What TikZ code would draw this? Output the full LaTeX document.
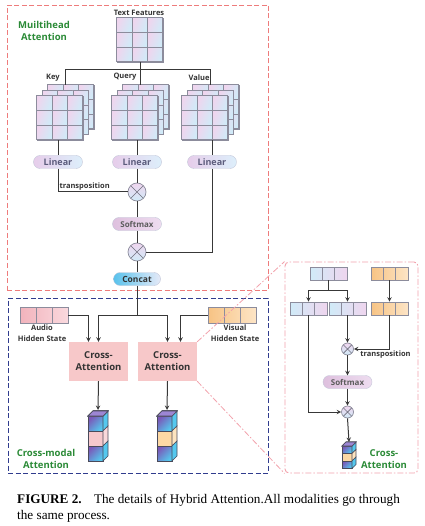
\documentclass[tikz,border=0pt]{standalone}
\usepackage{fontspec}
\setmainfont{Liberation Serif}
\newfontfamily\diagfont{Open Sans}
\usetikzlibrary{shapes.misc,positioning,calc}
\definecolor{GridBlue}{HTML}{D0EBF8}
\definecolor{GridPink}{HTML}{EFD5EE}
\definecolor{GridLine}{HTML}{8C8C9C}
\definecolor{PillPink}{HTML}{E6CDEA}
\definecolor{PillBlue}{HTML}{DDEFFB}
\definecolor{PillEdge}{HTML}{C2C6D8}
\definecolor{PillText}{HTML}{5C5C7C}
\definecolor{ConcatBlue}{HTML}{58C2EC}
\definecolor{ConcatLight}{HTML}{E6EAF8}
\definecolor{SoftPink}{HTML}{DEC0DE}
\definecolor{SoftLight}{HTML}{EEDDF0}
\definecolor{FrameRed}{HTML}{EE7C7C}
\definecolor{FrameNavy}{HTML}{303C8E}
\definecolor{FramePink}{HTML}{F2A2AC}
\definecolor{CrossPink}{HTML}{F7C8C9}
\definecolor{AudioPink}{HTML}{F2B3BC}
\definecolor{AudioLight}{HTML}{FAD9DE}
\definecolor{VisualOrange}{HTML}{F7C384}
\definecolor{VisualLight}{HTML}{FDE5C6}
\definecolor{CubePurple}{HTML}{7A58B8}
\definecolor{CubeBlue}{HTML}{55C8EE}
\definecolor{CubeTop}{HTML}{9D86D4}
\definecolor{CubePink}{HTML}{F6C8CC}
\definecolor{CubeOrange}{HTML}{FCD8A4}
\definecolor{CubeEdge}{HTML}{4A4A5A}
\definecolor{GroupGreen}{HTML}{2A8A36}
\definecolor{LineGray}{HTML}{383838}
\definecolor{LabelGray}{HTML}{333333}
\tikzstyle{gridBlock}=[draw=GridLine, fill=GridBlue, minimum width=46pt, minimum height=44pt, inner sep=0pt, line width=0.6pt]
\tikzstyle{gridCell}=[left color=GridPink, right color=GridBlue, shading angle=70, draw=GridLine, line width=0.6pt]
\tikzstyle{rowBlock}=[draw=GridLine, minimum width=48pt, minimum height=16pt, inner sep=0pt, line width=0.6pt,
    path picture={
        \foreach \f in {1,2}
            \draw[GridLine, line width=0.6pt] ($(path picture bounding box.north west)!\f/3!(path picture bounding box.north east)$) -- ($(path picture bounding box.south west)!\f/3!(path picture bounding box.south east)$);
    }]
\tikzstyle{pillNode}=[rounded rectangle, draw=PillEdge, left color=PillPink, right color=PillBlue, minimum width=51pt, minimum height=13pt, inner sep=1pt, text=PillText, font=\diagfont\bfseries\fontsize{9}{10}\selectfont]
\tikzstyle{mulNode}=[circle, draw=GridLine, top color=GridPink, bottom color=GridBlue, minimum size=18pt, inner sep=0pt, line width=0.7pt,
    path picture={
        \draw[GridLine!80!black, line width=0.7pt] (path picture bounding box.north west) -- (path picture bounding box.south east)
            (path picture bounding box.north east) -- (path picture bounding box.south west);
    }]
\tikzstyle{crossBlock}=[fill=CrossPink, minimum width=59pt, minimum height=39pt, inner sep=1pt, align=center, text=LabelGray, font=\diagfont\bfseries\fontsize{9.5}{12}\selectfont]
\tikzstyle{multiheadFrame}=[draw=FrameRed, line width=0.9pt, dash pattern=on 5pt off 2.5pt, minimum width=261pt, minimum height=285pt, inner sep=0pt]
\tikzstyle{crossmodalFrame}=[draw=FrameNavy, line width=0.9pt, dash pattern=on 5pt off 2.5pt, minimum width=260pt, minimum height=175pt, inner sep=0pt]
\tikzstyle{detailFrame}=[draw=FramePink, line width=0.9pt, dash pattern=on 6pt off 2pt on 1.5pt off 2pt, rounded corners=4pt, minimum width=133pt, minimum height=211pt, inner sep=0pt]
\tikzstyle{zoomLine}=[draw=FramePink, line width=0.8pt, dash pattern=on 6pt off 2pt on 1.5pt off 2pt]
\tikzstyle{smallLabel}=[text=LabelGray, inner sep=1pt, align=center, font=\diagfont\bfseries\fontsize{7.5}{11}\selectfont]
\tikzstyle{groupLabel}=[text=GroupGreen, align=center, inner sep=0pt, font=\diagfont\bfseries\fontsize{9.5}{12.5}\selectfont]
\tikzstyle{captionText}=[align=left, inner sep=0pt, font=\fontsize{13.2}{16}\selectfont]
\tikzstyle{plainLine}=[draw=LineGray, line width=1pt]
\tikzstyle{flowArrow}=[-stealth, draw=LineGray, line width=1pt]
\tikzstyle{cubeFace}=[draw=CubeEdge, line width=0.6pt, minimum width=15pt, minimum height=15pt, inner sep=0pt, outer sep=0pt]
\tikzstyle{smallCube}=[cubeFace, minimum width=10pt, minimum height=7.5pt]
\tikzstyle{cubeDark}=[top color=CubePurple, bottom color=CubeBlue, shading angle=45]
\newcommand{\gridCells}[1]{\foreach \col in {0,1,2} {\foreach \row in {0,1,2} {\path[gridCell] ([shift={(\col*46/3,\row*44/3)}]#1.north west) rectangle ++(46/3,44/3);}}}
\newcommand{\cubeSide}[3]{\filldraw[draw=CubeEdge, line width=0.6pt, fill=#3] (#1.north east) -- ++(#2,-#2) -- ([shift={(#2,-#2)}]#1.south east) -- (#1.south east) -- cycle;}
\newcommand{\cubeTop}[3]{\filldraw[draw=CubeEdge, line width=0.6pt, fill=#3] (#1.north west) -- ++(#2,-#2) -- ([shift={(#2,-#2)}]#1.north east) -- (#1.north east) -- cycle;}

\begin{document}
\begin{tikzpicture}[x=1pt,y=-1pt]
    \useasboundingbox (0,0) rectangle (424,526);

    % Frames
    \node[multiheadFrame] (mhFrame) at (137.5,147.5) {};
    \node[crossmodalFrame] (cmFrame) at (138,385.5) {};
    \node[detailFrame] (caFrame) at (351.5,367.5) {};
    \node[groupLabel] (mhLabel) at (44,31) {Muiltihead\\Attention};
    \node[groupLabel] (cmLabel) at (46,459) {Cross-modal\\Attention};
    \node[groupLabel] (caLabel) at (384,459) {Cross-\\Attention};

    % Multihead attention
    \node[smallLabel] (featText) at (139,13) {Text Features};
    \node[gridBlock] (textGrid) at (140,40) {};
    \gridCells{textGrid}
    \foreach \name/\x in {key/60, query/135, value/205} {
        \node[gridBlock] (\name Back) at (\x+11,107) {};
        \gridCells{\name Back}
        \node[gridBlock] (\name Mid) at (\x+5.5,112.5) {};
        \gridCells{\name Mid}
        \node[gridBlock] (\name Front) at (\x,118) {};
        \gridCells{\name Front}
    }
    \node[smallLabel] (keyText) at (53,78) {Key};
    \node[smallLabel] (queryText) at (125,77) {Query};
    \node[smallLabel] (valueText) at (199,78) {Value};
    \coordinate (featSplit) at ([yshift=-7pt]textGrid.south);
    \draw[plainLine] (textGrid.south) -- (featSplit);
    \draw[plainLine] (keyMid.north |- keyBack.north) |- (featSplit) -| (valueMid.north |- valueBack.north);
    \draw[plainLine] (queryMid.north |- queryBack.north) -- (queryMid.north |- featSplit);

    \node[pillNode] (keyLinear) at (58,162) {Linear};
    \node[pillNode] (queryLinear) at (137,162) {Linear};
    \node[pillNode] (valueLinear) at (212,162) {Linear};
    \draw[plainLine] (keyLinear.north |- keyFront.south) -- (keyLinear.north);
    \draw[plainLine] (queryLinear.north |- queryFront.south) -- (queryLinear.north);
    \draw[plainLine] (valueLinear.north |- valueFront.south) -- (valueLinear.north);

    \node[mulNode] (mulOne) at (137,192) {};
    \node[pillNode, left color=SoftPink, right color=SoftLight, text=LabelGray!80, font=\diagfont\bfseries\fontsize{8}{9}\selectfont] (softmax) at (137,224) {Softmax};
    \node[mulNode] (mulTwo) at (137,252) {};
    \node[pillNode, minimum width=49pt, left color=ConcatBlue, right color=ConcatLight, text=LabelGray, font=\diagfont\bfseries\fontsize{8.5}{9}\selectfont] (concat) at (137,279) {Concat};
    \draw[plainLine] (keyLinear.south) |- node[smallLabel, pos=0.5, above right] (transText) {transposition} (mulOne.west);
    \draw[plainLine] (queryLinear.south) -- (mulOne.north);
    \draw[plainLine] (mulOne.south) -- (softmax.north);
    \draw[plainLine] (softmax.south) -- (mulTwo.north);
    \draw[plainLine] (valueLinear.south) |- (mulTwo.east);
    \draw[plainLine] (mulTwo.south) -- (concat.north);

    % Cross-modal attention
    \node[rowBlock, left color=AudioPink, right color=AudioLight] (audioRow) at (44,315) {};
    \node[rowBlock, left color=VisualOrange, right color=VisualLight] (visualRow) at (232,315) {};
    \node[smallLabel] (audioText) at (42,333) {Audio\\Hidden State};
    \node[smallLabel] (visualText) at (235,333) {Visual\\Hidden State};
    \node[crossBlock] (audioCross) at (98.5,361.5) {Cross-\\Attention};
    \node[crossBlock] (visualCross) at (167.5,361.5) {Cross-\\Attention};
    \coordinate (concatSplit) at (137,315);
    \draw[plainLine] (concat.south) -- (concatSplit);
    \draw[flowArrow] (concatSplit) -| (audioCross.north);
    \draw[flowArrow] (concatSplit) -| (visualCross.north);
    \draw[flowArrow] (audioRow.east) -| ([xshift=-10pt]audioCross.north);
    \draw[flowArrow] (visualRow.west) -| ([xshift=13pt]visualCross.north);

    \node[cubeFace, cubeDark] (audioCubeA) at (95.5,423.5) {};
    \node[cubeFace, fill=CubePink] (audioCubeB) at (95.5,438.5) {};
    \node[cubeFace, cubeDark] (audioCubeC) at (95.5,453.5) {};
    \node[cubeFace, cubeDark] (visualCubeA) at (164.5,423.5) {};
    \node[cubeFace, fill=CubeOrange] (visualCubeB) at (164.5,438.5) {};
    \node[cubeFace, cubeDark] (visualCubeC) at (164.5,453.5) {};
    \foreach \cube/\side in {audioCubeA/CubeBlue, audioCubeB/CubePink!70, audioCubeC/CubeBlue, visualCubeA/CubeBlue, visualCubeB/CubeOrange!70, visualCubeC/CubeBlue}
        \cubeSide{\cube}{5}{\side}
    \cubeTop{audioCubeA}{5}{CubeTop}
    \cubeTop{visualCubeA}{5}{CubeTop}
    \coordinate (audioCubeTop) at ([shift={(2.5,-6)}]audioCubeA.north);
    \coordinate (visualCubeTop) at ([shift={(2.5,-6)}]visualCubeA.north);
    \draw[flowArrow] (audioCross.south) -- (audioCubeTop);
    \draw[flowArrow] (visualCross.south) -- (visualCubeTop);

    % Detail of cross-attention
    \draw[zoomLine] (visualCross.north east) -- (caFrame.north west);
    \draw[zoomLine] (visualCross.south east) -- (caFrame.south west);
    \node[rowBlock, minimum width=37pt, minimum height=13pt, left color=GridBlue, right color=GridPink] (caText) at (328.5,273.5) {};
    \node[rowBlock, minimum width=37pt, minimum height=13pt, left color=VisualOrange, right color=VisualLight] (caVisual) at (389.5,273.5) {};
    \node[rowBlock, minimum width=37pt, minimum height=13pt, left color=GridBlue, right color=GridPink] (caKey) at (308.5,308.5) {};
    \node[rowBlock, minimum width=37pt, minimum height=13pt, left color=GridBlue, right color=GridPink] (caQuery) at (347.5,308.5) {};
    \node[rowBlock, minimum width=37pt, minimum height=13pt, left color=VisualOrange, right color=VisualLight] (caValue) at (389.5,308.5) {};
    \coordinate (caSplit) at (328.5,290);
    \draw[plainLine] (caText.south) -- (caSplit);
    \draw[flowArrow] (caSplit) -| (caKey.north);
    \draw[flowArrow] (caSplit) -| (caQuery.north);
    \draw[flowArrow] (caVisual.south) -- (caValue.north);

    \node[mulNode, minimum size=12pt] (caMulOne) at (347.5,349) {};
    \node[pillNode, left color=SoftPink, right color=SoftLight, text=LabelGray!80, font=\diagfont\bfseries\fontsize{8}{9}\selectfont] (caSoftmax) at (347.5,382) {Softmax};
    \node[mulNode, minimum size=12pt] (caMulTwo) at (347.5,412) {};
    \draw[flowArrow] (caQuery.south) -- (caMulOne.north);
    \draw[flowArrow] (caValue.south) |- node[smallLabel, pos=0.5, below, xshift=-4pt] (caTransText) {transposition} (caMulOne.east);
    \draw[flowArrow] (caMulOne.south) -- (caSoftmax.north);
    \draw[flowArrow] (caSoftmax.south) -- (caMulTwo.north);
    \draw[flowArrow] (caKey.south) |- (caMulTwo.west);

    \node[smallCube, cubeDark] (caCubeA) at (347,449.75) {};
    \node[smallCube, fill=CubeOrange] (caCubeB) at (347,457.25) {};
    \node[smallCube, cubeDark] (caCubeC) at (347,464.75) {};
    \foreach \cube/\side in {caCubeA/CubeBlue, caCubeB/CubeOrange!70, caCubeC/CubeBlue}
        \cubeSide{\cube}{4}{\side}
    \cubeTop{caCubeA}{4}{CubeTop}
    \coordinate (caCubeTop) at ([shift={(2,-4)}]caCubeA.north);
    \draw[flowArrow] (caMulTwo.south) -- (caCubeTop);

    % Caption
    \node[captionText, anchor=north west] (figCaption) at (17,494) {\textbf{FIGURE 2.}\hspace{0.6em} The details of Hybrid Attention.All modalities go through\\the same process.};
\end{tikzpicture}
\end{document}
